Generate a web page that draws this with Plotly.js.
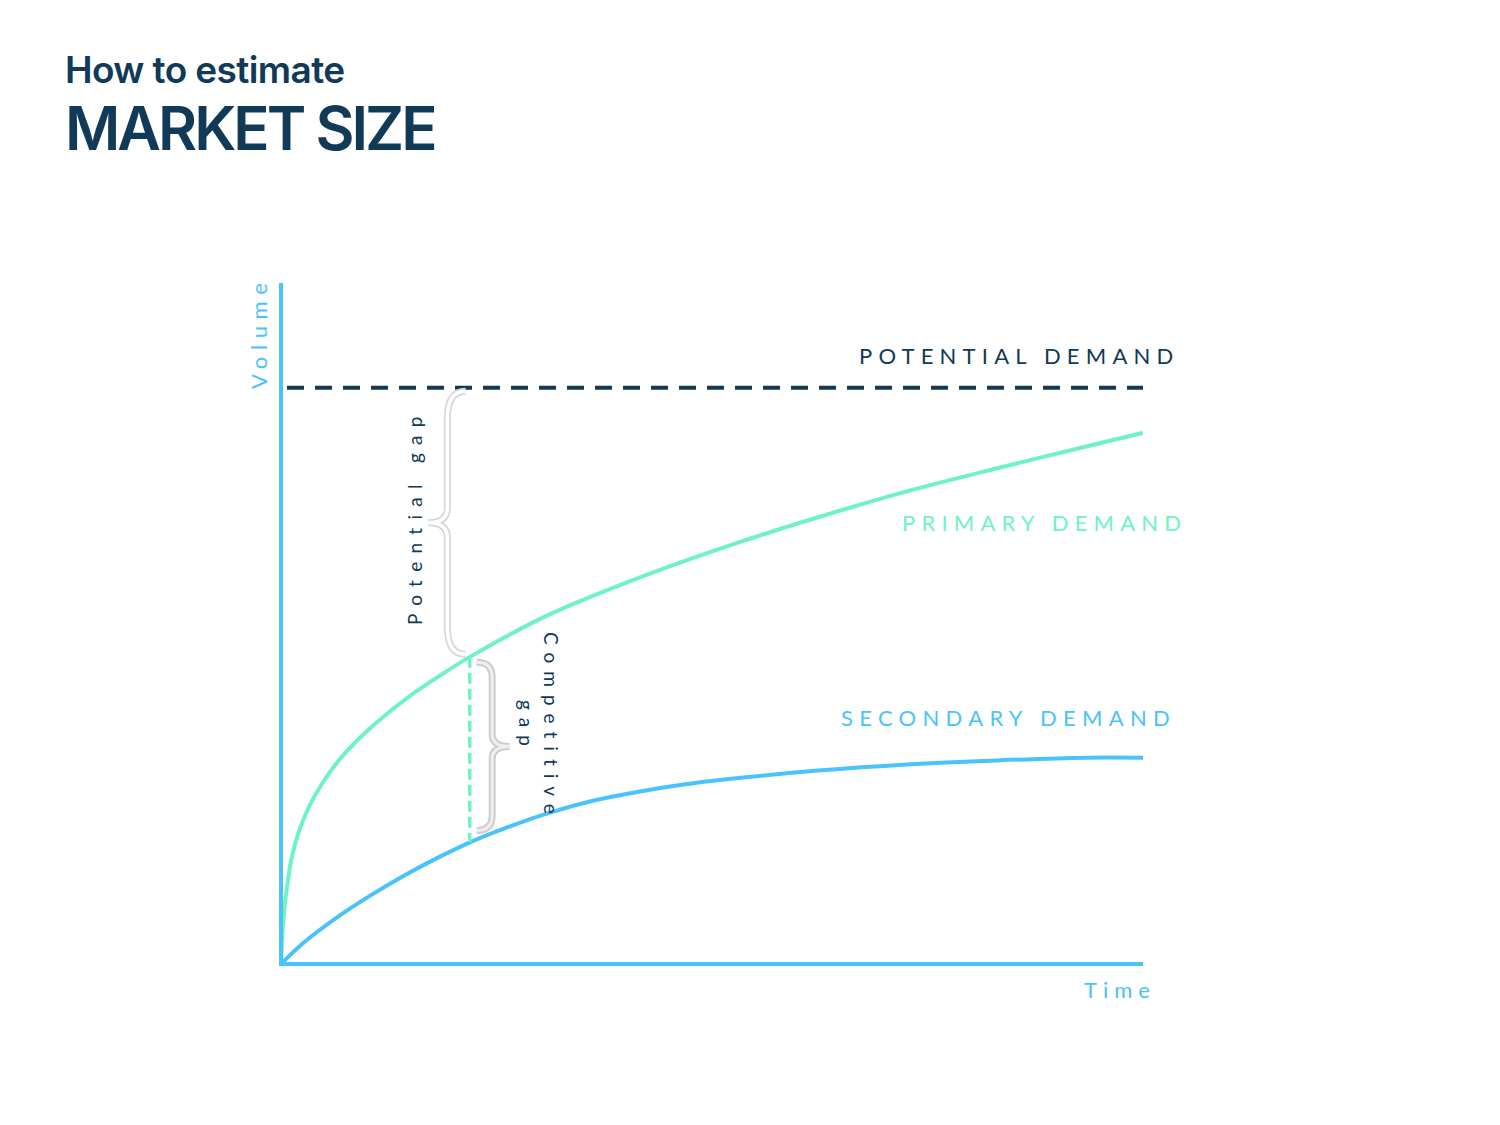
<!DOCTYPE html>
<html><head><meta charset="utf-8">
<script src="https://cdn.plot.ly/plotly-3.0.1.min.js"></script>
<style>html,body{margin:0;padding:0;background:#fff}</style>
</head><body>
<div id="chart" style="width:1500px;height:1125px"></div>
<script>
// ---- data (time 0..100, volume 0..100) ----
const primaryTime   = [0, 0.27, 0.66, 1.24, 2.01, 3.17, 4.72, 6.65, 8.97, 11.68, 14.77, 18.25, 21.9, 31.1, 41.5, 51.9, 62.3, 72.6, 83.1, 93.4, 100];
const primaryDemand = [0, 6.5, 11.0, 15.6, 19.2, 22.9, 26.4, 29.8, 33.0, 36.1, 39.2, 42.2, 45.1, 51.3, 56.7, 61.4, 65.6, 69.4, 72.8, 76.0, 78.0];
const secondaryTime   = [0, 2.55, 6.50, 10.3, 14.15, 18.1, 22.5, 26.1, 31.1, 36.3, 41.5, 46.7, 51.9, 62.3, 72.6, 83.1, 93.4, 100];
const secondaryDemand = [0, 3.05, 6.85, 10.0, 12.9, 15.55, 18.2, 20.0, 22.2, 24.0, 25.3, 26.35, 27.15, 28.4, 29.3, 29.9, 30.3, 30.3];
const potentialTime = [0.7, 100];
const potentialDemand = [84.6, 84.6];
const gapTime = 21.9;
const gapPrimary = 45.1;
const gapSecondary = 17.9;

const labels = {
  title1: 'How to estimate',
  title2: 'MARKET SIZE',
  yLabel: 'Volume',
  xLabel: 'Time',
  potential: 'POTENTIAL DEMAND',
  primary: 'PRIMARY DEMAND',
  secondary: 'SECONDARY DEMAND',
  potentialGap: 'Potential gap',
  competitiveGap: ['Competitive', 'gap']
};

// ---- style ----
const NAVY = '#103a57', BLUE = '#4ac3fb', GREEN = '#6ff3c3';
const PL = 281, PT = 283, PW = 862, PH = 681;
const px2x = p => (p - PL) / PW;
const py2y = p => (PT + PH - p) / PH;
const ls = (t, s) => `<span style="letter-spacing:${s}px">${t}</span>`;

const traces = [
  {x: potentialTime, y: potentialDemand, mode: 'lines', cliponaxis: false,
   line: {color: NAVY, width: 4, dash: '17px,11px'}, hoverinfo: 'skip'},
  {x: primaryTime, y: primaryDemand, mode: 'lines', cliponaxis: false,
   line: {color: GREEN, width: 4, shape: 'spline', smoothing: 0.9}},
  {x: secondaryTime, y: secondaryDemand, mode: 'lines', cliponaxis: false,
   line: {color: BLUE, width: 4, shape: 'spline', smoothing: 0.9}},
  {x: [gapTime, gapTime], y: [gapPrimary, gapSecondary], mode: 'lines', cliponaxis: false,
   line: {color: GREEN, width: 3.5, dash: '11px,5px'}}
];

function bracePath(xEnd, xSpine, xTip, yTop, yBot, rEnd, rTip) {
  const yMid = (yTop + yBot) / 2;
  return `M ${xEnd},${yTop} Q ${xSpine},${yTop} ${xSpine},${yTop - rEnd}` +
         ` L ${xSpine},${yMid + rTip} Q ${xSpine},${yMid} ${xTip},${yMid}` +
         ` Q ${xSpine},${yMid} ${xSpine},${yMid - rTip}` +
         ` L ${xSpine},${yBot + rEnd} Q ${xSpine},${yBot} ${xEnd},${yBot}`;
}
const potBrace = bracePath(gapTime - 0.5, gapTime - 2.6, gapTime - 4.8,
                           potentialDemand[0] - 0.5, gapPrimary + 0.4, 4, 2.2);
const compBrace = bracePath(gapTime + 0.8, gapTime + 2.6, gapTime + 4.6,
                            gapPrimary - 0.8, gapSecondary + 1.7, 2.2, 1.8);
const shapes = [
  {type: 'line', xref: 'paper', yref: 'paper', x0: 0, x1: 0, y0: -0.003, y1: 1, line: {color: BLUE, width: 4}},
  {type: 'line', xref: 'paper', yref: 'paper', x0: -0.002, x1: 1, y0: 0, y1: 0, line: {color: BLUE, width: 4}},
  {type: 'path', xref: 'x', yref: 'y', path: potBrace, line: {color: '#d8d8d8', width: 7}},
  {type: 'path', xref: 'x', yref: 'y', path: potBrace, line: {color: '#ffffff', width: 3.5}},
  {type: 'path', xref: 'x', yref: 'y', path: compBrace, line: {color: '#cdcdcd', width: 7}},
  {type: 'path', xref: 'x', yref: 'y', path: compBrace, line: {color: '#eeeeee', width: 3}}
];

const LBL = 'Lato, "Open Sans", sans-serif';
const annotations = [
  {text: ls(labels.title1, -0.6), x: px2x(63), y: py2y(69), xanchor: 'left', yanchor: 'middle',
   font: {family: 'Inter, sans-serif', size: 37, weight: 600, color: NAVY}},
  {text: ls(labels.title2, -3), x: px2x(63), y: py2y(128), xanchor: 'left', yanchor: 'middle',
   font: {family: 'Inter, sans-serif', size: 60, weight: 600, color: NAVY}},
  {text: ls(labels.yLabel, 6.6), x: px2x(258), y: py2y(333), textangle: -90, xanchor: 'center', yanchor: 'middle',
   font: {family: LBL, size: 22, color: BLUE}},
  {text: ls(labels.xLabel, 6), x: px2x(1082), y: py2y(989), xanchor: 'left', yanchor: 'middle',
   font: {family: LBL, size: 22, color: BLUE}},
  {text: ls(labels.potential, 6.2), x: px2x(857), y: py2y(355), xanchor: 'left', yanchor: 'middle',
   font: {family: LBL, size: 22, color: NAVY}},
  {text: ls(labels.primary, 6.2), x: px2x(900), y: py2y(522), xanchor: 'left', yanchor: 'middle',
   font: {family: LBL, size: 22, color: GREEN}},
  {text: ls(labels.secondary, 6.3), x: px2x(839), y: py2y(717), xanchor: 'left', yanchor: 'middle',
   font: {family: LBL, size: 22, color: BLUE}},
  {text: ls(labels.potentialGap, 8.3), x: px2x(414), y: py2y(517), textangle: -90, xanchor: 'center', yanchor: 'middle',
   font: {family: LBL, size: 19, color: NAVY}},
  {text: ls(labels.competitiveGap[0], 8) + '<br>' + ls(labels.competitiveGap[1], 8),
   x: px2x(539), y: py2y(727), textangle: 90, xanchor: 'center', yanchor: 'middle',
   font: {family: LBL, size: 19, color: NAVY}}
].map(a => Object.assign({xref: 'paper', yref: 'paper', showarrow: false}, a));

const layout = {
  width: 1500, height: 1125,
  margin: {l: PL, r: 1500 - PL - PW, t: PT, b: 1125 - PT - PH},
  paper_bgcolor: '#ffffff', plot_bgcolor: '#ffffff',
  showlegend: false,
  xaxis: {range: [0, 100], showline: false, showgrid: false,
          zeroline: false, showticklabels: false, ticks: '', fixedrange: true},
  yaxis: {range: [0, 100], showline: false, showgrid: false,
          zeroline: false, showticklabels: false, ticks: '', fixedrange: true},
  shapes: shapes,
  annotations: annotations
};

Plotly.newPlot('chart', traces, layout, {displayModeBar: false, staticPlot: true});
</script>
</body></html>
